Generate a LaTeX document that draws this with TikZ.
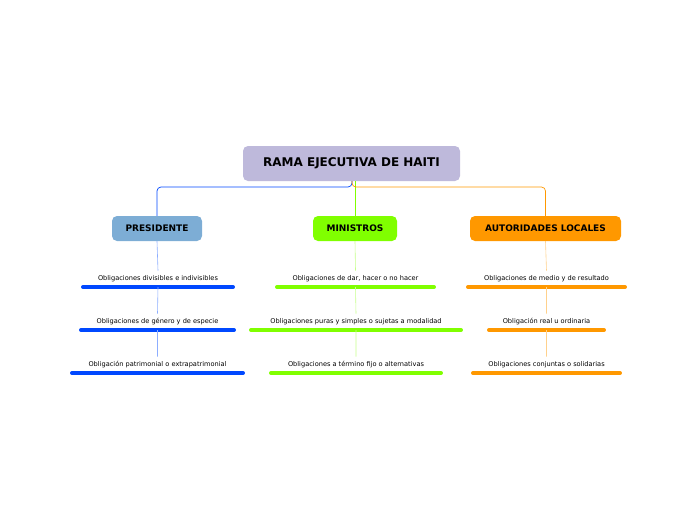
\documentclass[tikz,border=0pt]{standalone}
\usepackage{fontspec}
\setmainfont{DejaVu Sans}
\definecolor{rootfill}{RGB}{190,185,219}
\definecolor{presfill}{RGB}{125,173,213}
\definecolor{blueline}{RGB}{0,72,255}
\definecolor{greenline}{RGB}{128,255,0}
\definecolor{orangeline}{RGB}{255,152,0}
\begin{document}
\begin{tikzpicture}[x=1pt, y=-1pt,
    main node/.style={rounded corners=5pt, inner sep=0pt, font=\bfseries},
    sub node/.style={anchor=south, inner sep=0pt, minimum height=16pt, font=\fontsize{6.6}{7}\selectfont},
    uline/.style={line width=3.5pt, line cap=round},
    link/.style={line width=0.7pt, rounded corners=4pt},
    thin link/.style={line width=0.6pt}]

    \useasboundingbox (0,0) rectangle (697,520);

    % Root and main branches
    \node[main node, fill=rootfill, minimum width=217pt, minimum height=35pt, font=\bfseries\fontsize{12}{14}\selectfont] (root) at (351.5,163.5) {RAMA EJECUTIVA DE HAITI};
    \node[main node, fill=presfill, minimum width=90pt, minimum height=25pt, font=\bfseries\fontsize{9}{11}\selectfont] (pres) at (157,228.5) {PRESIDENTE};
    \node[main node, fill=greenline, minimum width=84pt, minimum height=25pt, font=\bfseries\fontsize{9}{11}\selectfont] (mini) at (355,228.5) {MINISTROS};
    \node[main node, fill=orangeline, minimum width=151pt, minimum height=25pt, font=\bfseries\fontsize{9}{11}\selectfont] (auto) at (545.5,228.5) {AUTORIDADES LOCALES};

    \coordinate (r0) at (352,181);
    \draw[link, blueline] (r0) -- (352,187) -- (pres.north |- 0,187) -- (pres.north);
    \draw[link, greenline] (355,181) -- (mini.north);
    \draw[link, orangeline] (r0) -- (352,187) -- (auto.north |- 0,187) -- (auto.north);

    % Sub topics
    \node[sub node, minimum width=150pt] (p1) at (158,287) {Obligaciones divisibles e indivisibles};
    \node[sub node, minimum width=153pt] (p2) at (157.5,330) {Obligaciones de género y de especie};
    \node[sub node, minimum width=171pt] (p3) at (157.5,373) {Obligación patrimonial o extrapatrimonial};
    \node[sub node, minimum width=157pt] (m1) at (355.5,287) {Obligaciones de dar, hacer o no hacer};
    \node[sub node, minimum width=210pt] (m2) at (356,330) {Obligaciones puras y simples o sujetas a modalidad};
    \node[sub node, minimum width=170pt] (m3) at (356,373) {Obligaciones a término fijo o alternativas};
    \node[sub node, minimum width=157pt] (a1) at (546.5,287) {Obligaciones de medio y de resultado};
    \node[sub node, minimum width=115pt] (a2) at (546.5,330) {Obligación real u ordinaria};
    \node[sub node, minimum width=147pt] (a3) at (546.5,373) {Obligaciones conjuntas o solidarias};

    \foreach \n in {p1,p2,p3}
        \draw[uline, blueline] (\n.south west) -- (\n.south east);
    \foreach \n in {m1,m2,m3}
        \draw[uline, greenline] (\n.south west) -- (\n.south east);
    \foreach \n in {a1,a2,a3}
        \draw[uline, orangeline] (\n.south west) -- (\n.south east);

    \draw[thin link, blueline!45] (pres.south) -- (p1.north) (p1.south) -- (p2.north) (p2.south) -- (p3.north);
    \draw[thin link, greenline!45] (mini.south) -- (m1.north) (m1.south) -- (m2.north) (m2.south) -- (m3.north);
    \draw[thin link, orangeline!45] (auto.south) -- (a1.north) (a1.south) -- (a2.north) (a2.south) -- (a3.north);

\end{tikzpicture}
\end{document}
